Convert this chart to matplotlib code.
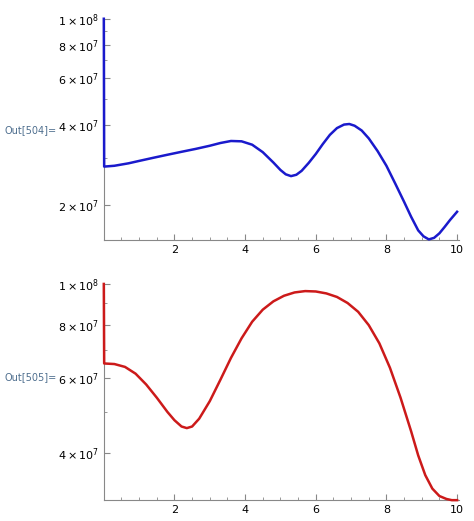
import numpy as np
import matplotlib.pyplot as plt
from matplotlib.ticker import FixedLocator, NullFormatter

# values (y in units of 1e7)
x_top = [0, 0.01, 0.3, 0.7, 1.0, 1.4, 1.8, 2.2, 2.6, 3.0, 3.3, 3.6, 3.9, 4.2, 4.5, 4.8,
         5.0, 5.15, 5.3, 5.45, 5.6, 5.8, 6.0, 6.2, 6.4, 6.6, 6.8, 6.95, 7.1, 7.3, 7.5,
         7.75, 8.0, 8.25, 8.5, 8.7, 8.9, 9.05, 9.2, 9.35, 9.5, 9.65, 9.8, 10]
y_top = [10, 2.78, 2.8, 2.86, 2.92, 3.0, 3.08, 3.16, 3.24, 3.33, 3.41, 3.47, 3.46, 3.36,
         3.15, 2.88, 2.7, 2.6, 2.56, 2.59, 2.68, 2.87, 3.1, 3.38, 3.66, 3.88, 4.0, 4.02,
         3.96, 3.8, 3.55, 3.18, 2.8, 2.4, 2.05, 1.8, 1.6, 1.52, 1.48, 1.5, 1.56, 1.65,
         1.75, 1.88]

x_bot = [0, 0.01, 0.3, 0.6, 0.9, 1.2, 1.5, 1.8, 2.0, 2.2, 2.35, 2.5, 2.7, 3.0, 3.3,
         3.6, 3.9, 4.2, 4.5, 4.8, 5.1, 5.4, 5.7, 6.0, 6.3, 6.6, 6.9, 7.2, 7.5, 7.8,
         8.1, 8.4, 8.7, 8.9, 9.1, 9.3, 9.5, 9.7, 9.85, 10]
y_bot = [10, 6.5, 6.48, 6.38, 6.15, 5.8, 5.4, 5.0, 4.78, 4.62, 4.58, 4.62, 4.82, 5.3,
         5.95, 6.7, 7.45, 8.15, 8.7, 9.1, 9.38, 9.55, 9.62, 9.6, 9.5, 9.32, 9.02, 8.6,
         8.0, 7.25, 6.35, 5.4, 4.5, 3.95, 3.55, 3.3, 3.17, 3.12, 3.1, 3.1]

top_ticks = [2, 4, 6, 8, 10]
bot_ticks = [4, 6, 8, 10]
tick_labels = {2: r"$2\times10^{7}$", 4: r"$4\times10^{7}$", 6: r"$6\times10^{7}$",
               8: r"$8\times10^{7}$", 10: r"$1\times10^{8}$"}
out_labels = ["Out[504]=", "Out[505]="]


def style_axes(ax, yticks, ylim):
    ax.set_yscale("log")
    ax.set_xlim(0, 10.05)
    ax.set_ylim(*ylim)
    for s in ["top", "right"]:
        ax.spines[s].set_visible(False)
    for s in ["left", "bottom"]:
        ax.spines[s].set_color("#888888")
    ax.yaxis.set_major_locator(FixedLocator([t * 1e7 for t in yticks]))
    ax.yaxis.set_major_formatter(plt.FixedFormatter([tick_labels[t] for t in yticks]))
    ax.yaxis.set_minor_locator(FixedLocator([3e7, 5e7, 7e7, 9e7]))
    ax.yaxis.set_minor_formatter(NullFormatter())
    ax.set_xticks([2, 4, 6, 8, 10])
    ax.set_xticks(np.arange(0, 10.01, 0.5), minor=True)
    ax.tick_params(labelsize=8, color="#888888", length=4, direction="in")
    ax.tick_params(which="minor", length=2, color="#888888", direction="in")


fig = plt.figure(figsize=(4.74, 5.21), dpi=100)
ax1 = fig.add_axes([0.219, 0.539, 0.749, 0.425])
ax2 = fig.add_axes([0.219, 0.040, 0.749, 0.415])

ax1.plot(x_top, np.array(y_top) * 1e7, color="#1a1acc", lw=1.8, clip_on=False, zorder=5)
style_axes(ax1, top_ticks, (1.47e7, 1.0e8))
ax2.plot(x_bot, np.array(y_bot) * 1e7, color="#cc1a1a", lw=1.8, clip_on=False, zorder=5)
style_axes(ax2, bot_ticks, (3.1e7, 1.0e8))

fig.text(0.01, 0.745, out_labels[0], fontsize=7, color="#4f6f8f")
fig.text(0.01, 0.27, out_labels[1], fontsize=7, color="#4f6f8f")

plt.savefig("out.png", dpi=100)
